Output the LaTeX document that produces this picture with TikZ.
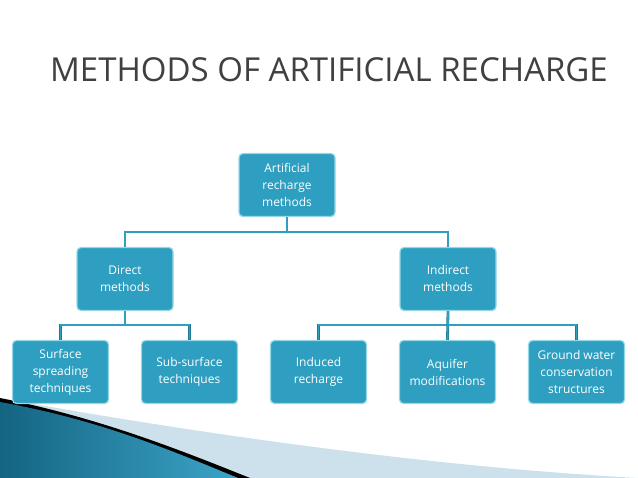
\documentclass[tikz,border=0pt]{standalone}
\usepackage{fontspec}
\setmainfont{Open Sans}
\definecolor{boxfill}{RGB}{46,159,192}
\definecolor{boxedge}{RGB}{150,215,230}
\definecolor{lnedge}{RGB}{30,120,150}
\definecolor{pale}{RGB}{205,225,236}
\definecolor{darkteal}{RGB}{20,100,130}
\definecolor{lightteal}{RGB}{60,165,200}
\definecolor{titlegray}{RGB}{64,64,64}
\begin{document}
\begin{tikzpicture}[x=1pt,y=-1pt,
  box/.style={draw=boxedge, line width=1.2pt, fill=boxfill, rounded corners=4pt, text=white, font=\fontsize{12}{17}\selectfont, align=center, minimum width=96pt, minimum height=63pt, inner sep=1pt},
  conn/.style={draw=lnedge, double=boxfill, double distance=1.6pt, line width=0.6pt}]
\useasboundingbox (0,0) rectangle (638,478);
% swoosh
\fill[pale] (0,398) .. controls (150,425) and (400,465) .. (638,478) -- (0,478) -- cycle;
\fill[black] (0,398) .. controls (100,418) and (180,450) .. (250,478) -- (0,478) -- cycle;
\shade[left color=darkteal, right color=lightteal] (0,402) .. controls (100,420) and (170,450) .. (238,478) -- (0,478) -- cycle;
\node[font=\fontsize{33}{38}\selectfont, text=titlegray] (title) at (329,70) {METHODS OF ARTIFICIAL RECHARGE};
\node[box] (a) at (287,185) {Artificial\\recharge\\methods};
\node[box] (d) at (125,279) {Direct\\methods};
\node[box] (i) at (448,279) {Indirect\\methods};
\node[box] (s1) at (60.5,372) {Surface\\spreading\\techniques};
\node[box] (s2) at (189.5,372) {Sub-surface\\techniques};
\node[box] (s3) at (318.5,372) {Induced\\recharge};
\node[box] (s4) at (447.5,372) {Aquifer\\modifications};
\node[box] (s5) at (576.5,372) {Ground water\\conservation\\structures};
\draw[conn] (a.south) |- (125,232) -- (d.north);
\draw[conn] (a.south) |- (448,232) -- (i.north);
\draw[conn] (d.south) |- (60.5,325) -- (s1.north);
\draw[conn] (d.south) |- (189.5,325) -- (s2.north);
\draw[conn] (i.south) |- (318.5,325) -- (s3.north);
\draw[conn] (i.south) -- (s4.north);
\draw[conn] (i.south) |- (576.5,325) -- (s5.north);
\end{tikzpicture}
\end{document}
